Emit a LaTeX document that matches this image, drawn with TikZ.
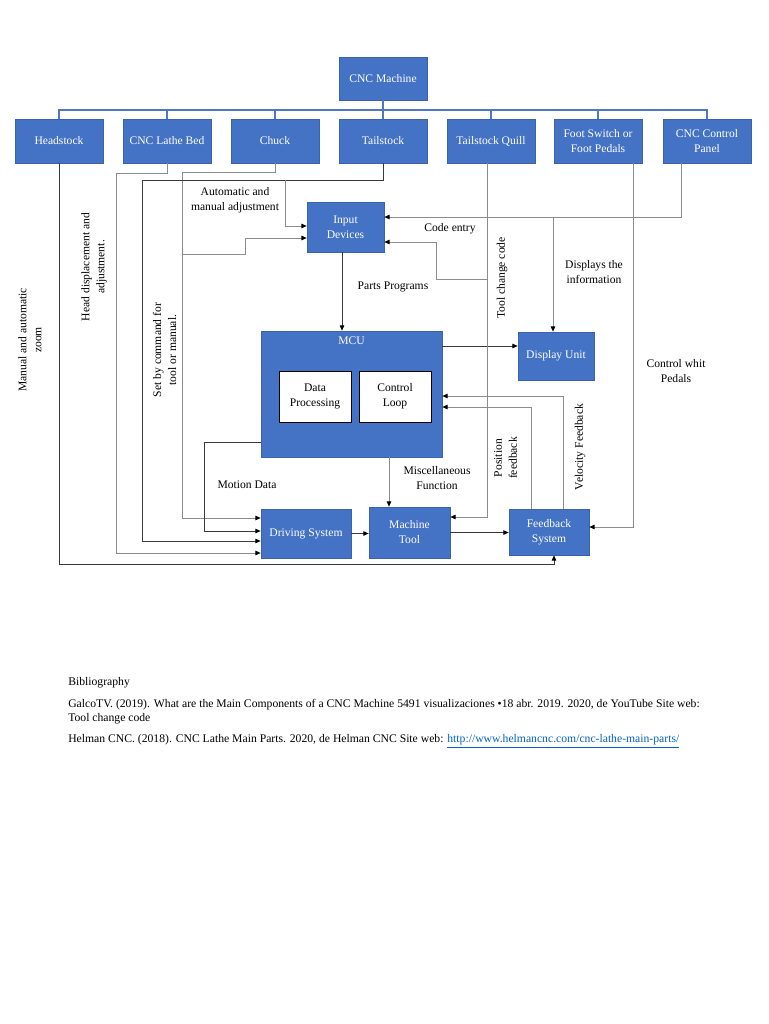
\documentclass[tikz,border=0pt]{standalone}
\usepackage{fontspec}
\setmainfont{Liberation Serif}
\usetikzlibrary{arrows.meta}
\definecolor{boxblue}{HTML}{4472C4}
\definecolor{boxedge}{HTML}{3A62AD}
\definecolor{busblue}{HTML}{4F78BF}
\definecolor{darkln}{HTML}{3A3A3A}
\definecolor{lightln}{HTML}{8C8C8C}
\definecolor{linkblue}{HTML}{0563C1}
\tikzset{
  box/.style={draw=boxedge, line width=0.5pt, fill=boxblue, text=white, align=center, inner sep=1pt, font=\fontsize{8.7}{11.25}\selectfont},
  wbox/.style={draw=black, line width=0.7pt, fill=white, text=black, align=center, inner sep=1pt, font=\fontsize{8.7}{11.25}\selectfont},
  lbl/.style={align=center, inner sep=0pt, font=\fontsize{8.7}{11.25}\selectfont},
  bus/.style={draw=busblue, line width=0.8pt},
  dk/.style={draw=darkln, line width=0.65pt},
  lt/.style={draw=lightln, line width=0.65pt},
  arr/.style={-{Triangle[length=4pt,width=3.4pt,black]}},
  bib/.style={anchor=west, inner sep=0pt, font=\fontsize{8.75}{11}\selectfont},
}
\begin{document}
\begin{tikzpicture}[x=0.75pt,y=-0.75pt]
\useasboundingbox (0,0) rectangle (768,1024);
\fill[white] (0,0) rectangle (768,1024);

% ---- top level boxes
\node[box, minimum width=88*0.75pt, minimum height=43*0.75pt] (cnc) at (383,78.5) {CNC Machine};
\node[box, minimum width=88*0.75pt, minimum height=44*0.75pt] (head) at (59,141) {Headstock};
\node[box, minimum width=88*0.75pt, minimum height=44*0.75pt] (lathe) at (167,141) {CNC Lathe Bed};
\node[box, minimum width=88*0.75pt, minimum height=44*0.75pt] (chuck) at (275,141) {Chuck};
\node[box, minimum width=88*0.75pt, minimum height=44*0.75pt] (tail) at (383,141) {Tailstock};
\node[box, minimum width=88*0.75pt, minimum height=44*0.75pt] (quill) at (491,141) {Tailstock Quill};
\node[box, minimum width=88*0.75pt, minimum height=44*0.75pt] (foot) at (598,141) {Foot Switch or\\Foot Pedals};
\node[box, minimum width=88*0.75pt, minimum height=44*0.75pt] (panel) at (707,141) {CNC Control\\Panel};

% ---- lower boxes
\node[box, minimum width=77*0.75pt, minimum height=50*0.75pt] (input) at (345.5,227) {Input\\Devices};
\node[box, minimum width=181*0.75pt, minimum height=126*0.75pt] (mcu) at (351.5,394) {};
\node[lbl, text=white] (mcut) at (351.5,341) {MCU};
\node[wbox, minimum width=72*0.75pt, minimum height=51*0.75pt] (dp) at (315,396.5) {Data\\Processing};
\node[wbox, minimum width=72*0.75pt, minimum height=51*0.75pt] (cl) at (395,396.5) {Control\\Loop};
\node[box, minimum width=76*0.75pt, minimum height=48*0.75pt] (display) at (556,356) {Display Unit};
\node[box, minimum width=90*0.75pt, minimum height=49*0.75pt] (drive) at (306,533.5) {Driving System};
\node[box, minimum width=81*0.75pt, minimum height=51*0.75pt] (tool) at (409.5,532.5) {Machine\\Tool};
\node[box, minimum width=80*0.75pt, minimum height=46*0.75pt] (fb) at (549,532) {Feedback\\System};

% ---- bus
\coordinate (busy) at (0,110);
\draw[bus] (head.north) -- (head.north |- busy) -- (panel.north |- busy) -- (panel.north);
\draw[bus] (cnc.south) -- (tail.north);
\foreach \n in {lathe,chuck,quill,foot} \draw[bus] (\n.north) -- (\n.north |- busy);

% ---- helper coordinates
\coordinate (hb) at (554,564);
\coordinate (lb1) at (116,173);
\coordinate (lb2) at (116,553);
\coordinate (ch1) at (182,172);
\coordinate (ch2) at (182,518);
\coordinate (ch3) at (182,254);
\coordinate (ch4) at (245,238);
\coordinate (ts1) at (142,180);
\coordinate (ts2) at (142,541);
\coordinate (ts3) at (285,180);
\coordinate (ts4) at (285,226);
\coordinate (md1) at (204,442);
\coordinate (md2) at (204,531);
\coordinate (x342) at (342,0);
\coordinate (y346) at (0,346);
\coordinate (pn1) at (681,217);
\coordinate (pn2) at (553,217);
\coordinate (q1) at (487,517);
\coordinate (q2) at (487,279);
\coordinate (q3) at (436,242);
\coordinate (f1) at (633,527);
\coordinate (v1) at (563,396);
\coordinate (p1) at (531,407);
\coordinate (x389) at (389,0);

% ---- connectors
\draw[arr,dk] (head.south) |- (hb) -- (hb |- fb.south);
\draw[arr,lt] (lathe.south) |- (lb1) -- (lb2) -- (lb2 -| drive.west);
\draw[arr,lt] (chuck.south) |- (ch1) -- (ch2) -- (ch2 -| drive.west);
\draw[arr,lt] (ch3) -| (ch4) -- (ch4 -| input.west);
\draw[arr,dk] (tail.south) |- (ts1) -- (ts2) -- (ts2 -| drive.west);
\draw[arr,lt] (ts3) -- (ts4) -- (ts4 -| input.west);
\draw[arr,dk] (md1 -| mcu.west) -- (md1) -- (md2) -- (md2 -| drive.west);
\draw[arr,dk] (input.south -| x342) -- (mcu.north -| x342);
\draw[arr,dk] (mcu.east |- y346) -- (display.west |- y346);
\draw[arr,lt] (panel.south -| pn1) -- (pn1) -- (pn1 -| input.east);
\draw[arr,lt] (pn2) -- (pn2 |- display.north);
\draw[arr,lt] (quill.south -| q1) -- (q1) -- (q1 -| tool.east);
\draw[arr,lt] (q2) -| (q3) -- (q3 -| input.east);
\draw[arr,lt] (foot.south -| f1) -- (f1) -- (f1 -| fb.east);
\draw[arr,lt] (fb.north -| v1) -- (v1) -- (v1 -| mcu.east);
\draw[arr,lt] (fb.north -| p1) -- (p1) -- (p1 -| mcu.east);
\draw[arr,lt] (mcu.south -| x389) -- (tool.north -| x389);
\draw[arr,dk] (drive.east) -- (drive.east -| tool.west);
\draw[arr,dk] (tool.east) -- (tool.east -| fb.west);

% ---- labels
\node[lbl] (l1) at (235,200.5) {Automatic and\\manual adjustment};
\node[lbl] (l2) at (450,229) {Code entry};
\node[lbl] (l3) at (393,287) {Parts Programs};
\node[lbl, rotate=90] (l4) at (502,278) {Tool change code};
\node[lbl] (l5) at (594,272) {Displays the\\information};
\node[lbl] (l6) at (676,371) {Control whit\\Pedals};
\node[lbl] (l7) at (437,478) {Miscellaneous\\Function};
\node[lbl] (l8) at (247,485) {Motion Data};
\node[lbl, rotate=90] (l9) at (505.5,458) {Position\\feedback};
\node[lbl, rotate=90] (l10) at (580,447) {Velocity Feedback};
\node[lbl, rotate=90] (l11) at (30,340) {Manual and automatic\\zoom};
\node[lbl, rotate=90] (l12) at (94,267) {Head displacement and\\adjustment.};
\node[lbl, rotate=90] (l13) at (164.5,350) {Set by command for\\tool or manual.};

% ---- bibliography
\node[bib] (b0) at (68,683) {Bibliography};
\node[bib] (b1) at (68,705) {GalcoTV. (2019). What are the Main Components of a CNC Machine 5491 visualizaciones •18 abr. 2019. 2020, de YouTube Site web:};
\node[bib] (b2) at (68,719) {Tool change code};
\node[bib] (b3) at (68,741) {Helman CNC. (2018). CNC Lathe Main Parts. 2020, de Helman CNC Site web: {\color{linkblue}\underline{http://www.helmancnc.com/cnc-lathe-main-parts/}}};
\end{tikzpicture}
\end{document}
